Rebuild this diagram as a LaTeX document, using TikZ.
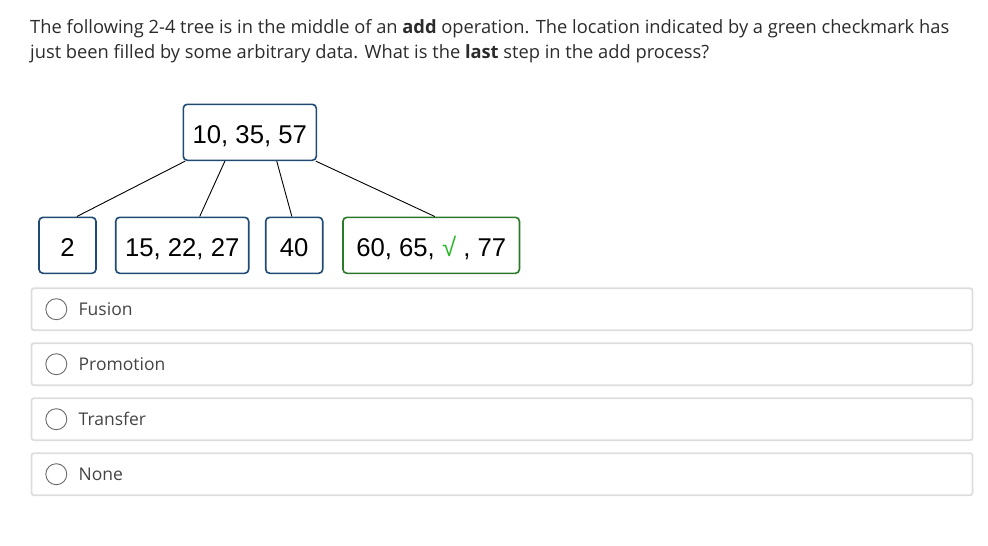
\documentclass[tikz,border=0pt]{standalone}
\usepackage{fontspec}
\setmainfont{Open Sans}
\newfontfamily\treefont{Liberation Sans}
\usetikzlibrary{calc}
\definecolor{keyblue}{HTML}{1F4A73}
\definecolor{keygreen}{HTML}{2A7A2A}
\definecolor{tickgreen}{HTML}{22B822}
\definecolor{optgray}{HTML}{DDDDDD}
\definecolor{radiogray}{HTML}{6A6A6A}
\definecolor{qtext}{HTML}{2B2B2B}
\definecolor{otext}{HTML}{444444}
\newcommand{\keywidth}{1.6pt}
\newcommand{\leafh}{56pt}
\tikzset{
  keynode/.style={draw=keyblue, line width=\keywidth, rounded corners=4pt, inner sep=0pt,
    minimum height=\leafh, text height=22pt, text depth=0pt,
    font=\treefont\fontsize{25.7}{26}\selectfont},
  filled/.style={keynode, draw=keygreen},
  optbox/.style={draw=optgray, line width=1.8pt, rounded corners=2.5pt, minimum width=941pt,
    minimum height=42pt, inner sep=0pt},
  radio/.style={draw=radiogray, line width=0.9pt, circle, minimum size=21pt, inner sep=0pt},
  optlabel/.style={anchor=west, inner sep=0pt, text=otext, font=\fontsize{17.5}{18}\selectfont},
  qline/.style={anchor=base west, inner sep=0pt, text=qtext, font=\fontsize{18.3}{20}\selectfont}
}
\begin{document}
\begin{tikzpicture}[x=1pt,y=-1pt]
\useasboundingbox (0,0) rectangle (988,546);
\node[qline] (q1) at (30,33.5) {The following 2-4 tree is in the middle of an \textbf{add} operation. The location indicated by a green checkmark has};
\node[qline] (q2) at (30,58.5) {just been filled by some arbitrary data. What is the \textbf{last} step in the add process?};
%tree
\node[keynode, minimum width=133pt] (root) at (249.8,132.3) {10, 35, 57};
\node[keynode, minimum width=57pt] (c1) at (67.5,245.3) {2};
\node[keynode, minimum width=133pt] (c2) at (182.2,245.3) {15, 22, 27};
\node[keynode, minimum width=57pt] (c3) at (294.2,245.3) {40};
\node[filled, minimum width=176.5pt] (c4) at (431.2,245.3) {60, 65, {\color{tickgreen}√} , 77};
\draw[line width=0.9pt] ($(root.south west)!0.02!(root.south east)$) -- ($(c1.north west)!0.66!(c1.north east)$);
\draw[line width=0.9pt] ($(root.south west)!0.315!(root.south east)$) -- ($(c2.north west)!0.63!(c2.north east)$);
\draw[line width=0.9pt] ($(root.south west)!0.70!(root.south east)$) -- ($(c3.north west)!0.46!(c3.north east)$);
\draw[line width=0.9pt] ($(root.south west)!0.99!(root.south east)$) -- ($(c4.north west)!0.52!(c4.north east)$);
%answers
\node[optbox] (o1) at (502,309.2) {};
\node[optbox] (o2) at (502,364.2) {};
\node[optbox] (o3) at (502,419.2) {};
\node[optbox] (o4) at (502,474.2) {};
\node[radio] (r1) at (56.3,309.2) {};
\node[radio] (r2) at (56.3,364.2) {};
\node[radio] (r3) at (56.3,419.2) {};
\node[radio] (r4) at (56.3,474.2) {};
\node[optlabel] (l1) at (78.5,309.2) {Fusion};
\node[optlabel] (l2) at (78.5,364.2) {Promotion};
\node[optlabel] (l3) at (78.5,419.2) {Transfer};
\node[optlabel] (l4) at (78.5,474.2) {None};
\end{tikzpicture}
\end{document}
